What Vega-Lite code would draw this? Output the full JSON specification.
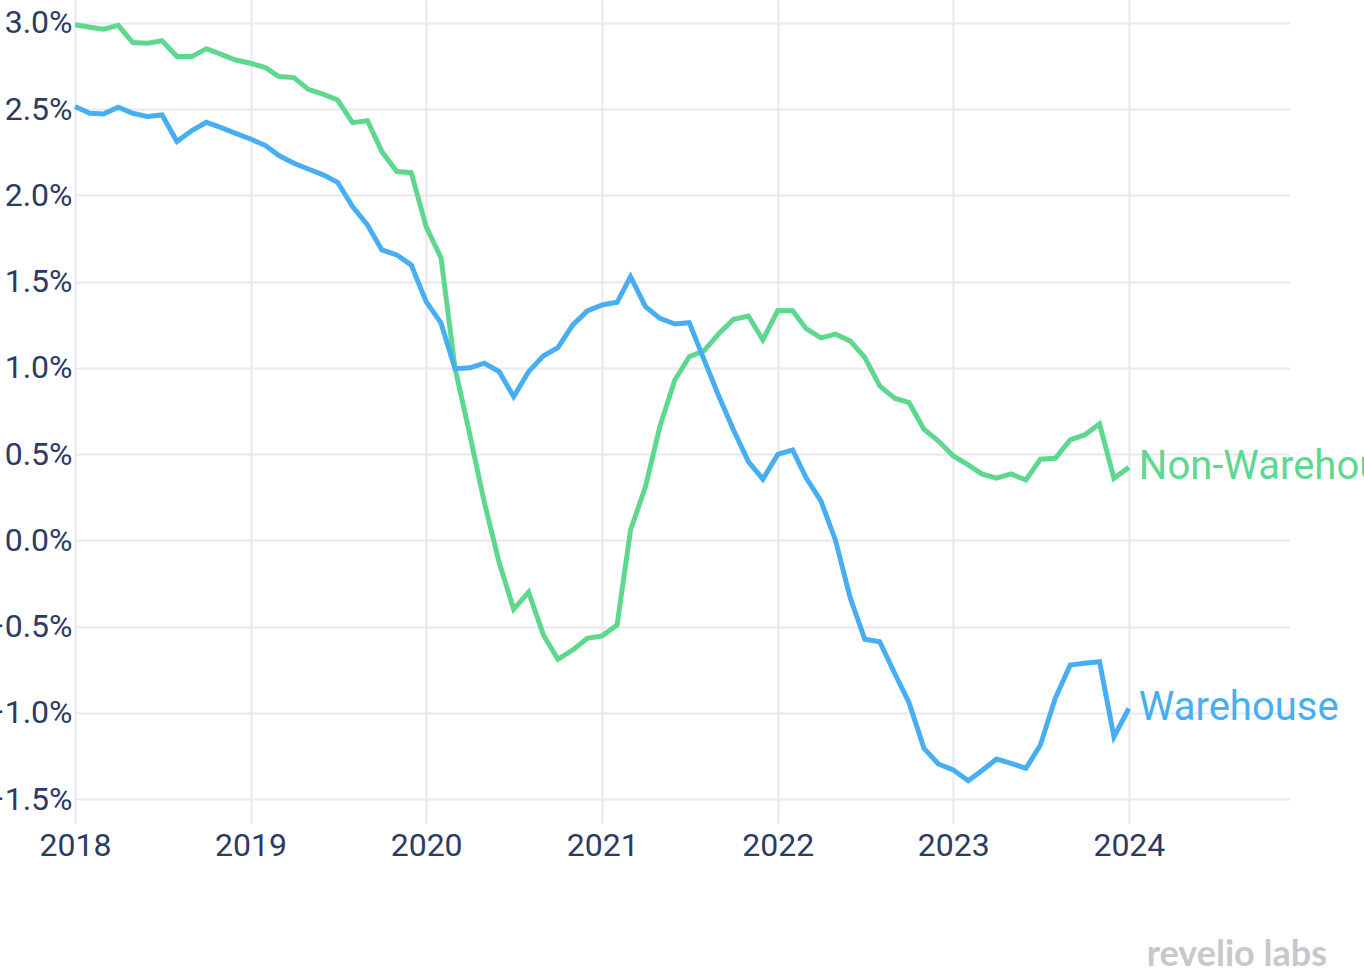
{
  "$schema": "https://vega.github.io/schema/vega-lite/v6.json",
  "width": 1215,
  "height": 823,
  "autosize": {"type": "none"},
  "padding": {"left": 75, "top": 0, "right": 74, "bottom": 155},
  "background": "white",
  "config": {"view": {"stroke": null}, "font": "Roboto"},
  "datasets": {
    "rates": [
      {"series": "Non-Warehouse", "date": "2018-01-01", "value": 2.99},
      {"series": "Non-Warehouse", "date": "2018-02-01", "value": 2.975},
      {"series": "Non-Warehouse", "date": "2018-03-01", "value": 2.963},
      {"series": "Non-Warehouse", "date": "2018-04-01", "value": 2.986},
      {"series": "Non-Warehouse", "date": "2018-05-01", "value": 2.886},
      {"series": "Non-Warehouse", "date": "2018-06-01", "value": 2.882},
      {"series": "Non-Warehouse", "date": "2018-07-01", "value": 2.897},
      {"series": "Non-Warehouse", "date": "2018-08-01", "value": 2.805},
      {"series": "Non-Warehouse", "date": "2018-09-01", "value": 2.805},
      {"series": "Non-Warehouse", "date": "2018-10-01", "value": 2.851},
      {"series": "Non-Warehouse", "date": "2018-11-01", "value": 2.818},
      {"series": "Non-Warehouse", "date": "2018-12-01", "value": 2.785},
      {"series": "Non-Warehouse", "date": "2019-01-01", "value": 2.766},
      {"series": "Non-Warehouse", "date": "2019-02-01", "value": 2.741},
      {"series": "Non-Warehouse", "date": "2019-03-01", "value": 2.689},
      {"series": "Non-Warehouse", "date": "2019-04-01", "value": 2.683},
      {"series": "Non-Warehouse", "date": "2019-05-01", "value": 2.615},
      {"series": "Non-Warehouse", "date": "2019-06-01", "value": 2.587},
      {"series": "Non-Warehouse", "date": "2019-07-01", "value": 2.553},
      {"series": "Non-Warehouse", "date": "2019-08-01", "value": 2.422},
      {"series": "Non-Warehouse", "date": "2019-09-01", "value": 2.433},
      {"series": "Non-Warehouse", "date": "2019-10-01", "value": 2.254},
      {"series": "Non-Warehouse", "date": "2019-11-01", "value": 2.138},
      {"series": "Non-Warehouse", "date": "2019-12-01", "value": 2.132},
      {"series": "Non-Warehouse", "date": "2020-01-01", "value": 1.819},
      {"series": "Non-Warehouse", "date": "2020-02-01", "value": 1.638},
      {"series": "Non-Warehouse", "date": "2020-03-01", "value": 1.0},
      {"series": "Non-Warehouse", "date": "2020-04-01", "value": 0.61},
      {"series": "Non-Warehouse", "date": "2020-05-01", "value": 0.22},
      {"series": "Non-Warehouse", "date": "2020-06-01", "value": -0.13},
      {"series": "Non-Warehouse", "date": "2020-07-01", "value": -0.4},
      {"series": "Non-Warehouse", "date": "2020-08-01", "value": -0.3},
      {"series": "Non-Warehouse", "date": "2020-09-01", "value": -0.55},
      {"series": "Non-Warehouse", "date": "2020-10-01", "value": -0.69},
      {"series": "Non-Warehouse", "date": "2020-11-01", "value": -0.635},
      {"series": "Non-Warehouse", "date": "2020-12-01", "value": -0.568},
      {"series": "Non-Warehouse", "date": "2021-01-01", "value": -0.554},
      {"series": "Non-Warehouse", "date": "2021-02-01", "value": -0.491},
      {"series": "Non-Warehouse", "date": "2021-03-01", "value": 0.06},
      {"series": "Non-Warehouse", "date": "2021-04-01", "value": 0.311},
      {"series": "Non-Warehouse", "date": "2021-05-01", "value": 0.66},
      {"series": "Non-Warehouse", "date": "2021-06-01", "value": 0.93},
      {"series": "Non-Warehouse", "date": "2021-07-01", "value": 1.065},
      {"series": "Non-Warehouse", "date": "2021-08-01", "value": 1.1},
      {"series": "Non-Warehouse", "date": "2021-09-01", "value": 1.2},
      {"series": "Non-Warehouse", "date": "2021-10-01", "value": 1.282},
      {"series": "Non-Warehouse", "date": "2021-11-01", "value": 1.301},
      {"series": "Non-Warehouse", "date": "2021-12-01", "value": 1.162},
      {"series": "Non-Warehouse", "date": "2022-01-01", "value": 1.332},
      {"series": "Non-Warehouse", "date": "2022-02-01", "value": 1.331},
      {"series": "Non-Warehouse", "date": "2022-03-01", "value": 1.227},
      {"series": "Non-Warehouse", "date": "2022-04-01", "value": 1.174},
      {"series": "Non-Warehouse", "date": "2022-05-01", "value": 1.196},
      {"series": "Non-Warehouse", "date": "2022-06-01", "value": 1.155},
      {"series": "Non-Warehouse", "date": "2022-07-01", "value": 1.061},
      {"series": "Non-Warehouse", "date": "2022-08-01", "value": 0.895},
      {"series": "Non-Warehouse", "date": "2022-09-01", "value": 0.824},
      {"series": "Non-Warehouse", "date": "2022-10-01", "value": 0.798},
      {"series": "Non-Warehouse", "date": "2022-11-01", "value": 0.644},
      {"series": "Non-Warehouse", "date": "2022-12-01", "value": 0.576},
      {"series": "Non-Warehouse", "date": "2023-01-01", "value": 0.489},
      {"series": "Non-Warehouse", "date": "2023-02-01", "value": 0.437},
      {"series": "Non-Warehouse", "date": "2023-03-01", "value": 0.385},
      {"series": "Non-Warehouse", "date": "2023-04-01", "value": 0.36},
      {"series": "Non-Warehouse", "date": "2023-05-01", "value": 0.385},
      {"series": "Non-Warehouse", "date": "2023-06-01", "value": 0.35},
      {"series": "Non-Warehouse", "date": "2023-07-01", "value": 0.47},
      {"series": "Non-Warehouse", "date": "2023-08-01", "value": 0.476},
      {"series": "Non-Warehouse", "date": "2023-09-01", "value": 0.582},
      {"series": "Non-Warehouse", "date": "2023-10-01", "value": 0.611},
      {"series": "Non-Warehouse", "date": "2023-11-01", "value": 0.675},
      {"series": "Non-Warehouse", "date": "2023-12-01", "value": 0.36},
      {"series": "Non-Warehouse", "date": "2024-01-01", "value": 0.423},
      {"series": "Warehouse", "date": "2018-01-01", "value": 2.515},
      {"series": "Warehouse", "date": "2018-02-01", "value": 2.476},
      {"series": "Warehouse", "date": "2018-03-01", "value": 2.472},
      {"series": "Warehouse", "date": "2018-04-01", "value": 2.511},
      {"series": "Warehouse", "date": "2018-05-01", "value": 2.476},
      {"series": "Warehouse", "date": "2018-06-01", "value": 2.457},
      {"series": "Warehouse", "date": "2018-07-01", "value": 2.466},
      {"series": "Warehouse", "date": "2018-08-01", "value": 2.312},
      {"series": "Warehouse", "date": "2018-09-01", "value": 2.376},
      {"series": "Warehouse", "date": "2018-10-01", "value": 2.424},
      {"series": "Warehouse", "date": "2018-11-01", "value": 2.393},
      {"series": "Warehouse", "date": "2018-12-01", "value": 2.36},
      {"series": "Warehouse", "date": "2019-01-01", "value": 2.327},
      {"series": "Warehouse", "date": "2019-02-01", "value": 2.289},
      {"series": "Warehouse", "date": "2019-03-01", "value": 2.231},
      {"series": "Warehouse", "date": "2019-04-01", "value": 2.186},
      {"series": "Warehouse", "date": "2019-05-01", "value": 2.153},
      {"series": "Warehouse", "date": "2019-06-01", "value": 2.119},
      {"series": "Warehouse", "date": "2019-07-01", "value": 2.076},
      {"series": "Warehouse", "date": "2019-08-01", "value": 1.935},
      {"series": "Warehouse", "date": "2019-09-01", "value": 1.829},
      {"series": "Warehouse", "date": "2019-10-01", "value": 1.684},
      {"series": "Warehouse", "date": "2019-11-01", "value": 1.655},
      {"series": "Warehouse", "date": "2019-12-01", "value": 1.597},
      {"series": "Warehouse", "date": "2020-01-01", "value": 1.384},
      {"series": "Warehouse", "date": "2020-02-01", "value": 1.259},
      {"series": "Warehouse", "date": "2020-03-01", "value": 0.995},
      {"series": "Warehouse", "date": "2020-04-01", "value": 1.0},
      {"series": "Warehouse", "date": "2020-05-01", "value": 1.027},
      {"series": "Warehouse", "date": "2020-06-01", "value": 0.978},
      {"series": "Warehouse", "date": "2020-07-01", "value": 0.833},
      {"series": "Warehouse", "date": "2020-08-01", "value": 0.978},
      {"series": "Warehouse", "date": "2020-09-01", "value": 1.07},
      {"series": "Warehouse", "date": "2020-10-01", "value": 1.117},
      {"series": "Warehouse", "date": "2020-11-01", "value": 1.249},
      {"series": "Warehouse", "date": "2020-12-01", "value": 1.33},
      {"series": "Warehouse", "date": "2021-01-01", "value": 1.365},
      {"series": "Warehouse", "date": "2021-02-01", "value": 1.38},
      {"series": "Warehouse", "date": "2021-03-01", "value": 1.529},
      {"series": "Warehouse", "date": "2021-04-01", "value": 1.355},
      {"series": "Warehouse", "date": "2021-05-01", "value": 1.287},
      {"series": "Warehouse", "date": "2021-06-01", "value": 1.254},
      {"series": "Warehouse", "date": "2021-07-01", "value": 1.262},
      {"series": "Warehouse", "date": "2021-08-01", "value": 1.046},
      {"series": "Warehouse", "date": "2021-09-01", "value": 0.833},
      {"series": "Warehouse", "date": "2021-10-01", "value": 0.64},
      {"series": "Warehouse", "date": "2021-11-01", "value": 0.456},
      {"series": "Warehouse", "date": "2021-12-01", "value": 0.355},
      {"series": "Warehouse", "date": "2022-01-01", "value": 0.498},
      {"series": "Warehouse", "date": "2022-02-01", "value": 0.524},
      {"series": "Warehouse", "date": "2022-03-01", "value": 0.362},
      {"series": "Warehouse", "date": "2022-04-01", "value": 0.227},
      {"series": "Warehouse", "date": "2022-05-01", "value": 0.001},
      {"series": "Warehouse", "date": "2022-06-01", "value": -0.336},
      {"series": "Warehouse", "date": "2022-07-01", "value": -0.574},
      {"series": "Warehouse", "date": "2022-08-01", "value": -0.588},
      {"series": "Warehouse", "date": "2022-09-01", "value": -0.771},
      {"series": "Warehouse", "date": "2022-10-01", "value": -0.941},
      {"series": "Warehouse", "date": "2022-11-01", "value": -1.206},
      {"series": "Warehouse", "date": "2022-12-01", "value": -1.297},
      {"series": "Warehouse", "date": "2023-01-01", "value": -1.332},
      {"series": "Warehouse", "date": "2023-02-01", "value": -1.394},
      {"series": "Warehouse", "date": "2023-03-01", "value": -1.336},
      {"series": "Warehouse", "date": "2023-04-01", "value": -1.268},
      {"series": "Warehouse", "date": "2023-05-01", "value": -1.293},
      {"series": "Warehouse", "date": "2023-06-01", "value": -1.322},
      {"series": "Warehouse", "date": "2023-07-01", "value": -1.187},
      {"series": "Warehouse", "date": "2023-08-01", "value": -0.916},
      {"series": "Warehouse", "date": "2023-09-01", "value": -0.723},
      {"series": "Warehouse", "date": "2023-10-01", "value": -0.713},
      {"series": "Warehouse", "date": "2023-11-01", "value": -0.704},
      {"series": "Warehouse", "date": "2023-12-01", "value": -1.139},
      {"series": "Warehouse", "date": "2024-01-01", "value": -0.975}
    ]
  },
  "data": {"name": "rates"},
  "title": {
    "text": "revelio labs",
    "orient": "bottom",
    "anchor": "end",
    "frame": "group",
    "font": "Lato",
    "fontSize": 36,
    "fontWeight": "bold",
    "color": "#c6c8cc",
    "offset": 77,
    "dx": 37
  },
  "encoding": {
    "x": {
      "field": "date",
      "type": "temporal",
      "scale": {
        "type": "utc",
        "domain": ["2018-01-01", "2024-12-01"]
      },
      "axis": {
        "title": null,
        "format": "%Y",
        "tickCount": "year",
        "labelFlush": false,
        "labelFont": "Roboto",
        "labelFontSize": 32,
        "labelColor": "#2c3b63",
        "labelPadding": 7,
        "ticks": false,
        "domain": false,
        "grid": true,
        "gridColor": "#e8e8ee",
        "gridWidth": 2
      }
    },
    "y": {
      "field": "value",
      "type": "quantitative",
      "scale": {"domain": [-1.639, 3.133], "nice": false, "zero": false},
      "axis": {
        "title": null,
        "values": [-1.5, -1, -0.5, 0, 0.5, 1, 1.5, 2, 2.5, 3],
        "labelExpr": "format(datum.value, '.1f') + '%'",
        "labelFont": "Roboto",
        "labelFontSize": 32,
        "labelColor": "#2c3b63",
        "labelPadding": 3,
        "ticks": false,
        "domain": false,
        "grid": true,
        "gridColor": "#e8e8ee",
        "gridWidth": 2
      }
    },
    "color": {
      "field": "series",
      "type": "nominal",
      "scale": {"domain": ["Non-Warehouse", "Warehouse"], "range": ["#5ed88f", "#47aef1"]},
      "legend": null
    }
  },
  "layer": [
    {"mark": {"type": "line", "strokeWidth": 5}},
    {
      "transform": [{"filter": "utcyear(datum.date) == 2024"}],
      "mark": {"type": "text", "align": "left", "baseline": "middle", "dx": 10, "fontSize": 40, "font": "Roboto"},
      "encoding": {"text": {"field": "series"}}
    }
  ]
}
